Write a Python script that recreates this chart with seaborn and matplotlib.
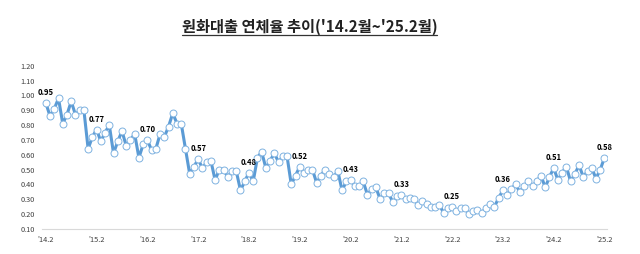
import numpy as np
import pandas as pd
import seaborn as sns
import matplotlib.pyplot as plt
from matplotlib.lines import Line2D

sns.set_theme(style="white")
plt.rcParams['font.family'] = ['Noto Sans CJK KR', 'DejaVu Sans']

# monthly won-loan delinquency rate (%), '14.2 ~ '25.2
months = pd.period_range("2014-02", "2025-02", freq="M")
rate = [0.95, 0.86, 0.91, 0.98, 0.81, 0.87, 0.96, 0.87, 0.90, 0.90, 0.64,
        0.72, 0.77, 0.69, 0.75, 0.80, 0.61, 0.69, 0.76, 0.66, 0.70, 0.74, 0.58,
        0.67, 0.70, 0.63, 0.64, 0.74, 0.72, 0.79, 0.88, 0.81, 0.81, 0.64, 0.47,
        0.52, 0.57, 0.51, 0.55, 0.56, 0.43, 0.50, 0.50, 0.45, 0.49, 0.49, 0.36,
        0.42, 0.48, 0.42, 0.58, 0.62, 0.51, 0.56, 0.61, 0.55, 0.59, 0.59, 0.40,
        0.46, 0.52, 0.48, 0.50, 0.50, 0.41, 0.46, 0.50, 0.47, 0.45, 0.49, 0.36,
        0.42, 0.43, 0.39, 0.39, 0.42, 0.33, 0.37, 0.38, 0.30, 0.34, 0.34, 0.28,
        0.32, 0.33, 0.30, 0.31, 0.30, 0.26, 0.29, 0.27, 0.25, 0.25, 0.26, 0.21,
        0.24, 0.25, 0.22, 0.24, 0.24, 0.20, 0.22, 0.23, 0.21, 0.24, 0.27, 0.25,
        0.31, 0.36, 0.33, 0.37, 0.40, 0.35, 0.39, 0.42, 0.39, 0.42, 0.46, 0.38,
        0.45, 0.51, 0.43, 0.48, 0.52, 0.42, 0.47, 0.53, 0.45, 0.49, 0.51, 0.44,
        0.50, 0.58]
tick_labels = ["'14.2", "'15.2", "'16.2", "'17.2", "'18.2", "'19.2",
               "'20.2", "'21.2", "'22.2", "'23.2", "'24.2", "'25.2"]
yticks = [0.10, 0.20, 0.30, 0.40, 0.50, 0.60, 0.70, 0.80, 0.90, 1.00, 1.10, 1.20]
title = "원화대출 연체율 추이('14.2월~'25.2월)"

df = pd.DataFrame({"pos": np.arange(len(months)), "month": months, "rate": rate})
feb = df[df["month"].dt.month == 2]

fig = plt.figure(figsize=(6.4, 2.54), dpi=100)
ax = fig.add_axes([42/640, 25/254, 565/640, 163.3/254])

sns.lineplot(data=df, x="pos", y="rate", ax=ax, color="#5B9BD5", linewidth=2.2,
             marker="o", markersize=5.0, markerfacecolor="white",
             markeredgecolor="#7FB2E0", markeredgewidth=0.7)

for _, r in feb.iterrows():
    ax.annotate(f"{r['rate']:.2f}", (r["pos"], r["rate"]), xytext=(0, 7.5),
                textcoords="offset points", ha="center", va="center",
                fontsize=5.5, fontweight="bold", color="black")

ax.set_xlim(-0.9, 132.6)
ax.set_ylim(0.1, 1.2)
ax.set_yticks(yticks)
ax.set_yticklabels([f"{v:.2f}" for v in yticks])
ax.set_xticks(feb["pos"])
ax.set_xticklabels(tick_labels)
ax.set_xlabel("")
ax.set_ylabel("")
for s in ["top", "right", "left"]:
    ax.spines[s].set_visible(False)
ax.spines["bottom"].set_color("#D9D9D9")
ax.spines["bottom"].set_linewidth(0.8)
ax.tick_params(length=0, labelsize=5.3, colors="#404040", pad=5)

t = fig.text(0.4836, 0.895, title, ha="center", va="center",
             fontsize=11, fontweight="bold", color="#222222")
fig.canvas.draw()
bb = t.get_window_extent()
W, H = fig.bbox.width, fig.bbox.height
fig.add_artist(Line2D([bb.x0 / W, bb.x1 / W], [1 - 34.5/254] * 2,
                      transform=fig.transFigure, color="#333333", lw=0.9))

plt.savefig("out.png", dpi=100)
